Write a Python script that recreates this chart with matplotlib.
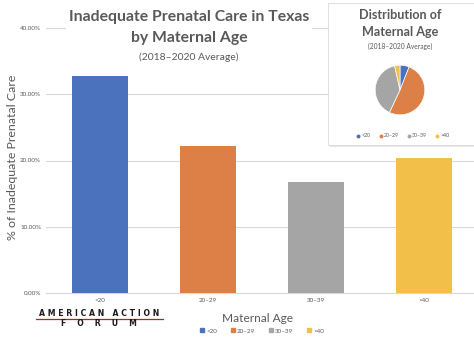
import matplotlib
matplotlib.use("Agg")
import matplotlib.pyplot as plt
from matplotlib.patches import Rectangle
from matplotlib.lines import Line2D

categories = ["<20", "20–29", "30–39", ">40"]
inadequate_pct = [0.327, 0.222, 0.167, 0.204]
dist_pct = [6.0, 51.0, 39.5, 3.5]
colors = ["#4A72BD", "#DD8048", "#A5A5A5", "#F2BF48"]
yticks = [0.0, 0.1, 0.2, 0.3, 0.4]
ytick_labels = ["0.00%", "10.00%", "20.00%", "30.00%", "40.00%"]

plt.rcParams['font.family'] = ['Lato', 'DejaVu Sans']
W, H = 474, 337
fig = plt.figure(figsize=(W/100, H/100), dpi=100)

def fx(px):
    return px / W

def fy(py):
    return 1 - py / H

# main axes
ax = fig.add_axes([fx(46), fy(293), fx(474) - fx(46), fy(28) - fy(293)])
x = list(range(len(categories)))
ax.bar(x, inadequate_pct, width=0.52, color=colors, zorder=3)
ax.set_xlim(-0.5, 3.463)
ax.set_ylim(0, 0.4)
ax.set_yticks(yticks)
ax.set_yticklabels(ytick_labels)
ax.set_xticks(x)
ax.set_xticklabels(categories)
ax.tick_params(axis='both', length=0, labelsize=4.5, colors="#595959", pad=3.5)
ax.grid(axis='y', color="#D9D9D9", linewidth=0.8, zorder=0)
for s in ["top", "right", "left"]:
    ax.spines[s].set_visible(False)
ax.spines["bottom"].set_color("#D9D9D9")
ax.spines["bottom"].set_linewidth(0.8)

fig.text(fx(13), fy(157), "% of Inadequate Prenatal Care", rotation=90, ha="center",
         va="center", fontsize=8.9, color="#595959")
fig.text(fx(257), fy(318), "Maternal Age", ha="center", va="center",
         fontsize=8.6, color="#595959")

# title with white background
fig.patches.append(Rectangle((fx(66), fy(66)), fx(312) - fx(66), fy(5) - fy(66),
                             transform=fig.transFigure, facecolor="white",
                             edgecolor="none", zorder=2))
fig.text(fx(189), fy(17), "Inadequate Prenatal Care in Texas", ha="center", va="center",
         fontsize=11.3, fontweight="bold", color="#595959", zorder=5)
fig.text(fx(189), fy(38), "by Maternal Age", ha="center", va="center",
         fontsize=11.3, fontweight="bold", color="#595959", zorder=5)
fig.text(fx(189), fy(57), "(2018–2020 Average)", ha="center", va="center",
         fontsize=7.5, color="#595959", zorder=5)

# bottom legend
handles = [Rectangle((0, 0), 1, 1, color=c) for c in colors]
fig.legend(handles, categories, loc="center", bbox_to_anchor=(fx(262), fy(331)),
           ncol=4, fontsize=4.5, frameon=False, handlelength=0.6, handleheight=0.6,
           handletextpad=0.4, columnspacing=2.2, labelcolor="#595959",
           borderpad=0, borderaxespad=0)

# inset box with shadow
fig.patches.append(Rectangle((fx(330), fy(147)), fx(480) - fx(330), fy(4) - fy(147),
                             transform=fig.transFigure, facecolor="#E6E6E6",
                             edgecolor="none", zorder=6))
fig.patches.append(Rectangle((fx(328), fy(145)), fx(480) - fx(328), fy(3) - fy(145),
                             transform=fig.transFigure, facecolor="white",
                             edgecolor="#D9D9D9", linewidth=0.6, zorder=7))
fig.text(fx(400), fy(15), "Distribution of", ha="center", va="center",
         fontsize=9.1, fontweight="bold", color="#595959", zorder=8)
fig.text(fx(400), fy(32), "Maternal Age", ha="center", va="center",
         fontsize=9.1, fontweight="bold", color="#595959", zorder=8)
fig.text(fx(400), fy(46), "(2018–2020 Average)", ha="center", va="center",
         fontsize=4.8, color="#595959", zorder=8)

pax = fig.add_axes([fx(369), fy(121), fx(62), fy(0) - fy(62)], zorder=9)
pax.pie(dist_pct, colors=colors, startangle=90, counterclock=False,
        wedgeprops=dict(edgecolor="white", linewidth=0.5))
pax.set_aspect("equal")

leg_handles = [Line2D([0], [0], marker="o", linestyle="none", markersize=1.8,
                      markerfacecolor=c, markeredgecolor=c) for c in colors]
leg2 = fig.legend(leg_handles, categories, loc="center", bbox_to_anchor=(fx(403), fy(136)),
                  ncol=4, fontsize=3.8, frameon=False, handlelength=0.6,
                  handletextpad=0.3, columnspacing=1.6, labelcolor="#595959",
                  borderpad=0, borderaxespad=0)
leg2.set_zorder(10)

# logo
fig.text(fx(99), fy(313), "A M E R I C A N   A C T I O N", ha="center", va="center",
         fontsize=5.6, fontweight="bold", color="#1a1a1a", family="DejaVu Sans")
fig.add_artist(Line2D([fx(36), fx(163)], [fy(318.5), fy(318.5)], color="#B22222",
                      linewidth=0.9, transform=fig.transFigure))
fig.text(fx(99), fy(324), "F    O    R    U    M", ha="center", va="center",
         fontsize=5.6, fontweight="bold", color="#1a1a1a", family="DejaVu Sans")

fig.savefig("out.png", dpi=100)
